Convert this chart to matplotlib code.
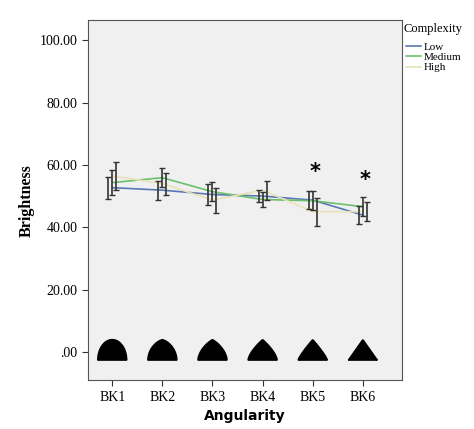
import numpy as np
import matplotlib
matplotlib.use("Agg")
import matplotlib.pyplot as plt
from matplotlib.patches import Polygon

categories = ["BK1", "BK2", "BK3", "BK4", "BK5", "BK6"]
low = [52.7, 51.9, 50.5, 50.0, 48.7, 43.9]
low_err = [3.5, 3.0, 3.5, 2.0, 3.0, 3.0]
medium = [54.3, 55.9, 51.4, 48.9, 48.5, 46.6]
medium_err = [4.0, 3.0, 3.0, 2.5, 3.0, 3.0]
high = [56.4, 54.0, 48.7, 51.9, 45.0, 45.0]
high_err = [4.5, 3.5, 4.0, 3.0, 4.5, 3.0]
series = [("Low", low, low_err, "#5a78b4"), ("Medium", medium, medium_err, "#6cbf6c"),
          ("High", high, high_err, "#e8e2b8")]
stars = [(4, 57.7), (5, 55.0)]

fig = plt.figure(figsize=(4.74, 4.29), dpi=100)
ax = fig.add_axes([0.186, 0.114, 0.662, 0.839])
ax.set_facecolor("#f0f0f0")
x = np.arange(len(categories))
offs = [-0.08, 0.0, 0.08]
for (name, v, e, c), o in zip(series, offs):
    ax.plot(x, v, color=c, lw=1.2, label=name, zorder=2)
    ax.errorbar(x + o, v, yerr=e, fmt="none", ecolor="#333333", elinewidth=1.2,
                capsize=2.5, capthick=1, zorder=3)
for i, yv in stars:
    ax.text(i + 0.05, yv, "*", fontsize=15, fontweight="bold", ha="center", va="center",
            color="black")

# angularity shapes
for k in range(6):
    t = k / 5
    th = np.linspace(0, np.pi, 60)
    cy = np.sin(th)
    tx = np.cos(th)
    ty = 1 - np.abs(tx)
    px = 0.29 * tx
    py = -2.6 + 6.6 * ((1 - t) * cy + t * ty)
    ax.add_patch(Polygon(np.column_stack([k + px, py]), closed=True, color="black", zorder=2))

ax.set_xlim(-0.48, 5.78)
ax.set_ylim(-9, 106.4)
ax.set_yticks([0, 20, 40, 60, 80, 100])
ax.set_yticklabels([".00", "20.00", "40.00", "60.00", "80.00", "100.00"],
                   family="Liberation Serif", fontsize=10)
ax.set_xticks(x)
ax.set_xticklabels(categories, family="Liberation Serif", fontsize=10)
ax.tick_params(length=4, color="#333333")
for s in ax.spines.values():
    s.set_color("#555555")
ax.set_xlabel("Angularity", fontweight="bold", fontsize=10, family="DejaVu Sans")
ax.set_ylabel("Brightness", fontweight="bold", fontsize=11.5, family="Liberation Serif")

fig.text(0.852, 0.925, "Complexity", family="Liberation Serif", fontsize=9)
fig.legend(loc="upper left", bbox_to_anchor=(0.845, 0.915), frameon=False,
           prop={"family": "Liberation Serif", "size": 8}, handlelength=1.3,
           handletextpad=0.3, labelspacing=0.05, borderpad=0)
fig.savefig("out.png", dpi=100)
